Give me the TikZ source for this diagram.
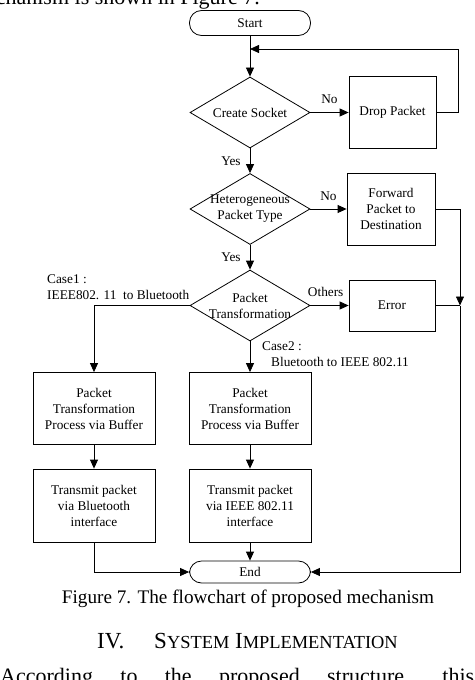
\documentclass[tikz,border=0pt]{standalone}
\usepackage{fontspec}
\setmainfont{Liberation Serif}
\usetikzlibrary{arrows.meta,positioning,shapes.geometric}

\tikzset{
  flow/.style={draw, line width=0.8pt, font=\fontsize{13.3}{16}\selectfont, align=center},
  term/.style={flow, rounded corners=12pt, minimum width=121pt, minimum height=25pt, inner sep=1pt},
  decide/.style={flow, diamond, aspect=1.69, minimum width=120pt, minimum height=71pt, inner sep=-3pt},
  proc/.style={flow, rectangle, minimum width=122pt, minimum height=72pt, inner sep=1pt},
  lbl/.style={font=\fontsize{13.3}{16}\selectfont, inner sep=1pt},
  page/.style={font=\fontsize{22}{26}\selectfont, inner sep=0pt, anchor=base},
  line/.style={line width=0.8pt},
  arr/.style={line, -{Triangle[length=9pt,width=8pt]}}
}

\begin{document}
\begin{tikzpicture}[x=1pt, y=1pt, node distance=96.5pt, on grid, auto]
  \useasboundingbox (0,0) rectangle (474,-680);
  \clip (0,0) rectangle (474,-680);

  % text of the page round the figure
  \node[page, anchor=base east] (txtabove) at (260,-5) {mechanism is shown in Figure 7.};

  \node[term] (start) at (250,-23) {Start};
  \node[decide] [below=89.5pt of start] (sock) {Create Socket};
  \node[proc, minimum width=87pt] [right=142.5pt of sock] (drop) {Drop Packet};
  \node[decide] [below=of sock] (hetero) {Heterogeneous\\Packet Type};
  \node[proc, minimum width=88pt] [right=141pt of hetero] (fwd) {Forward\\Packet to\\Destination};
  \node[decide] [below=of hetero] (ptrans) {Packet\\Transformation};
  \node[proc, minimum width=86pt, minimum height=51pt] [right=142pt of ptrans] (err) {Error};
  \node[proc] [below=103pt of ptrans] (bufwifi) {Packet\\Transformation\\Process via Buffer};
  \node[proc] [left=156pt of bufwifi] (bufbt) {Packet\\Transformation\\Process via Buffer};
  \node[proc, minimum height=73pt] [below=97pt of bufwifi] (txwifi) {Transmit packet\\via IEEE 802.11\\interface};
  \node[proc, minimum height=73pt] [below=97pt of bufbt] (txbt) {Transmit packet\\via Bluetooth\\interface};
  \node[term, minimum height=22pt] [below=66.5pt of txwifi] (end) {End};

  \coordinate (back) at (250,-49);
  \coordinate (merge) at (460,-305.5);

  % main line
  \draw[arr] (start) -- (sock);
  \draw[arr] (sock) -- node[lbl, left=8pt] (yes1) {Yes} (hetero);
  \draw[arr] (hetero) -- node[lbl, left=8pt] (yes2) {Yes} (ptrans);
  \draw[arr] (ptrans) -- (bufwifi);
  \draw[arr] (bufwifi) -- (txwifi);
  \draw[arr] (txwifi) -- (end);

  % right side
  \draw[arr] (sock) -- node[lbl, above=7pt] (no1) {No} (drop);
  \draw[arr] (drop.east) -- ++(22,0) |- (back);
  \draw[arr] (hetero) -- node[lbl, above=7pt] (no2) {No} (fwd);
  \draw[arr] (ptrans) -- node[lbl, above=7pt, pos=0.4] (others) {Others} (err);
  \draw[arr] (fwd.east) -| (merge);
  \draw[line] (err.east) -- (merge);
  \draw[arr] (merge) |- (end.east);

  % left side
  \draw[arr] (ptrans.west) -| (bufbt.north);
  \draw[arr] (bufbt) -- (txbt);
  \draw[arr] (txbt.south) |- (end.west);

  \node[lbl, align=left, anchor=south west] (case1) at (46,-301) {Case1 :\\IEEE802. 11\ \ to Bluetooth};
  \node[lbl, align=left, anchor=north west] (case2) at (261,-340) {Case2 :\\\hspace*{9pt}Bluetooth to IEEE 802.11};

  \node[page, font=\fontsize{19.2}{22}\selectfont] (caption) at (248,-603) {Figure 7. The flowchart of proposed mechanism};
  \node[page, font=\fontsize{23}{26}\selectfont, anchor=base west] (section) at (97,-648)
    {IV.\hspace{30pt}S{\fontsize{18.4}{20}\selectfont YSTEM} I{\fontsize{18.4}{20}\selectfont MPLEMENTATION}};
  \node[page, anchor=base west] (txtbelow) at (0,-683)
    {\makebox[474pt][s]{According to the proposed structure, this}};
\end{tikzpicture}
\end{document}
